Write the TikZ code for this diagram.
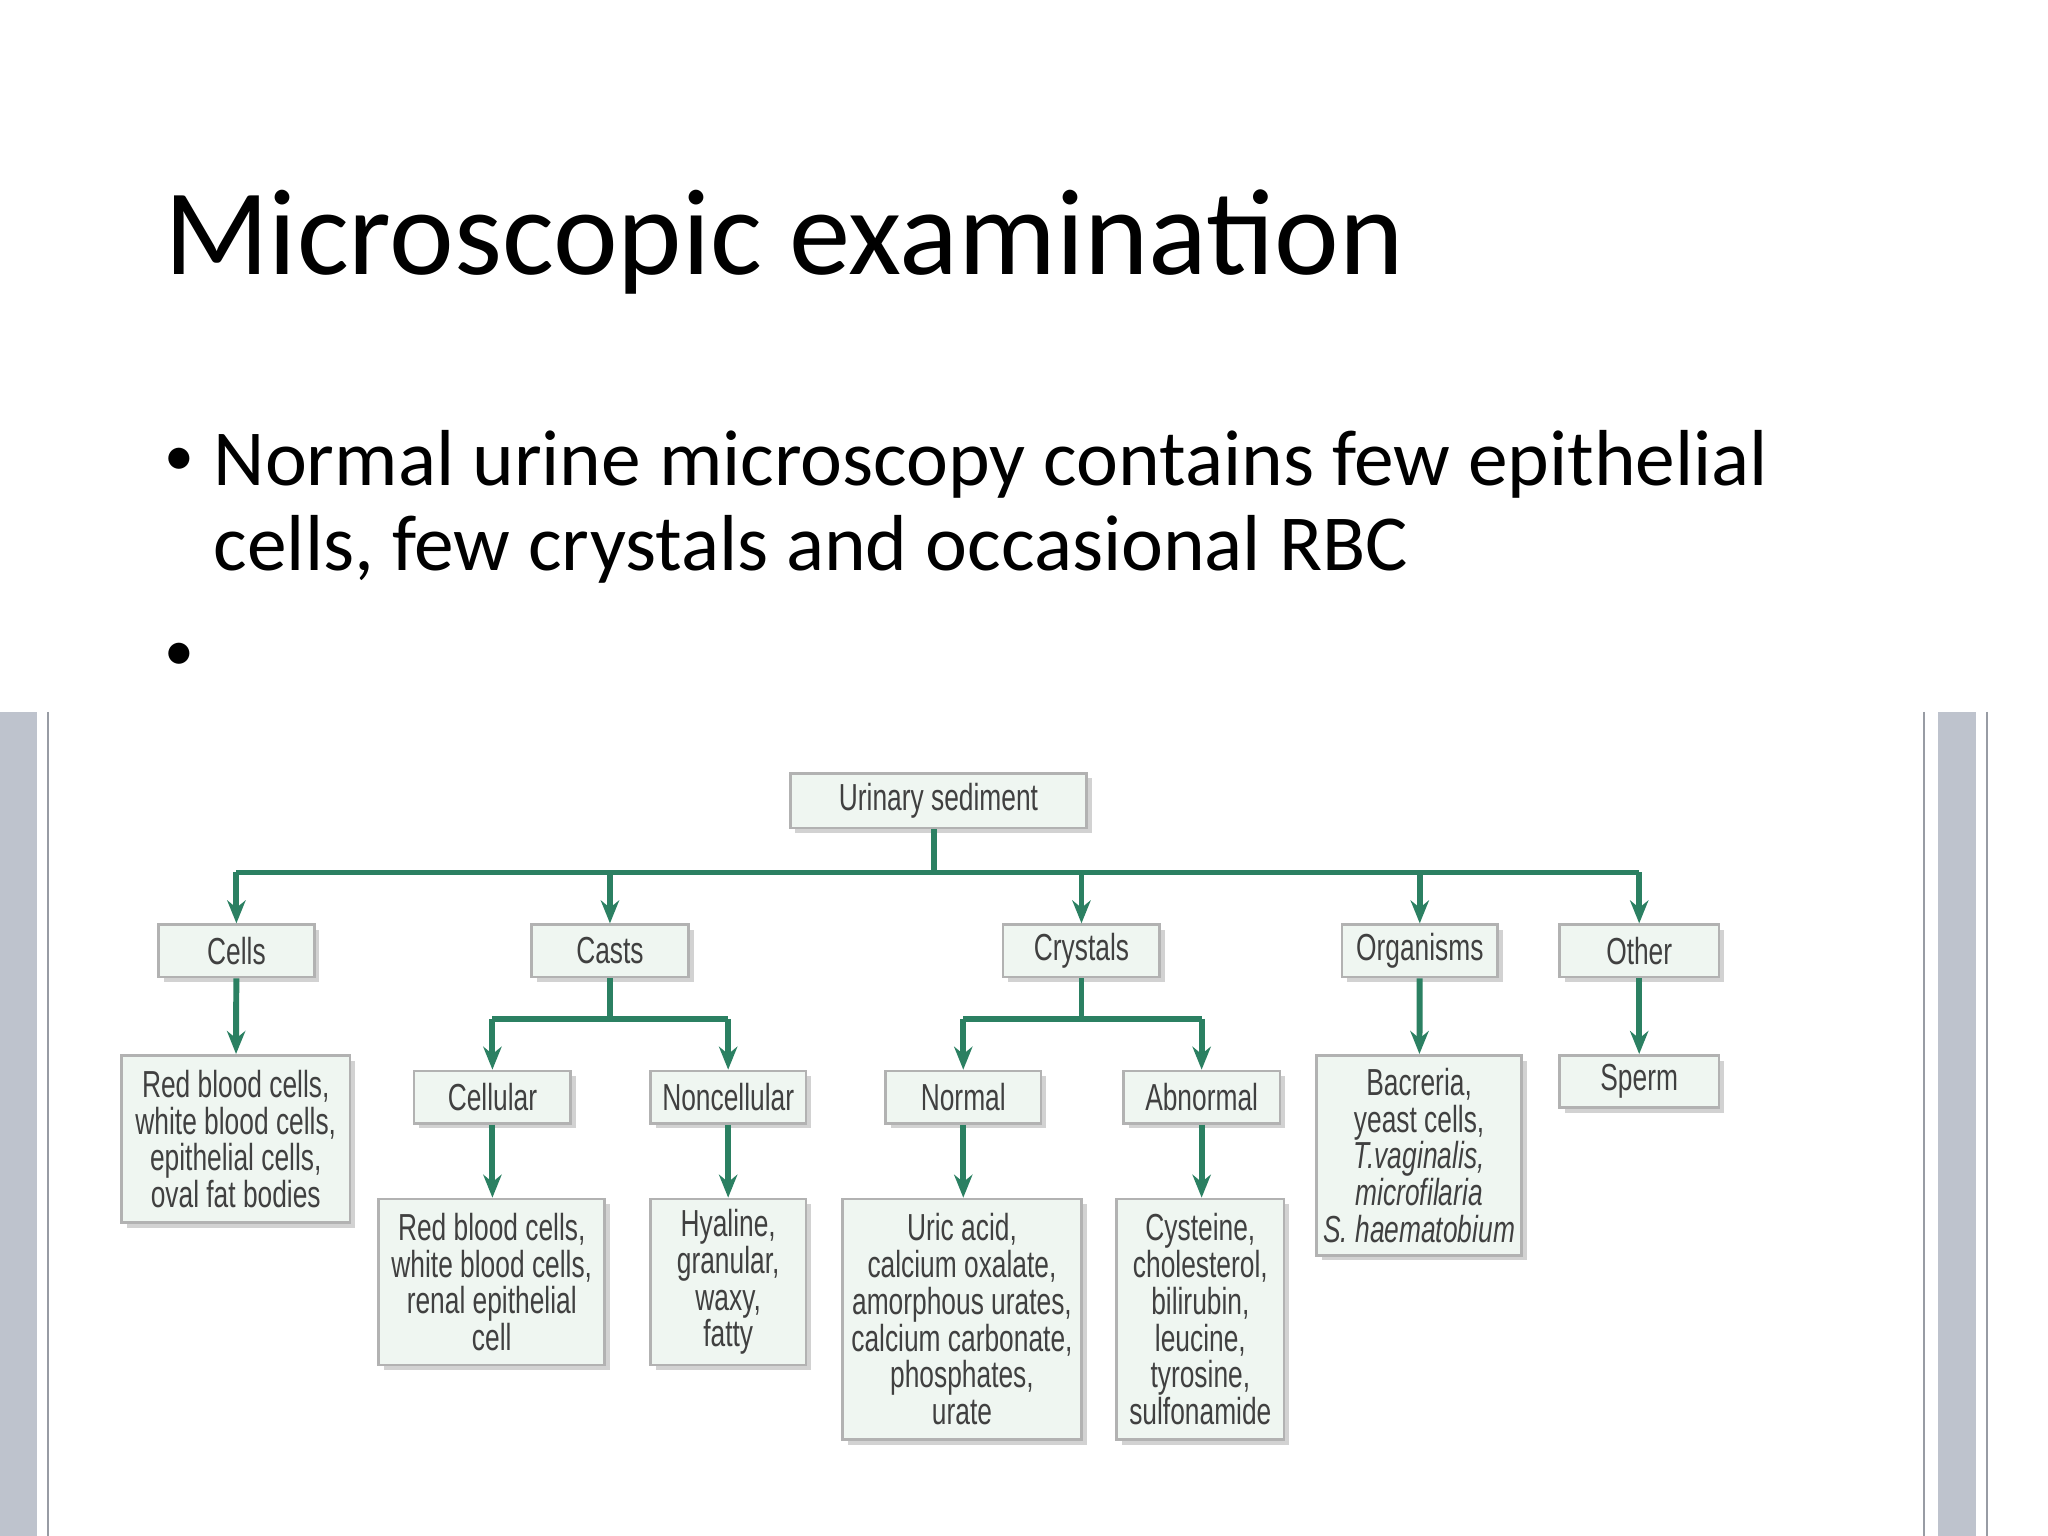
\documentclass[tikz,border=0pt]{standalone}
\usepackage{fontspec}
\setmainfont{Carlito}
\newfontfamily\dg[FakeStretch=0.70]{Liberation Sans}
\usetikzlibrary{shadows,arrows.meta}
\definecolor{gr}{HTML}{2B8062}
\definecolor{bar}{HTML}{BEC3CD}
\definecolor{bfill}{HTML}{EFF6F1}
\tikzset{
 bx/.style={draw=gray!60,line width=0.6pt,fill=bfill,drop shadow={shadow xshift=0.04,shadow yshift=-0.04,opacity=0.35},
   font=\dg\fontsize{8.2}{8}\selectfont\color{black!75},align=center,inner sep=0pt},
 ln/.style={draw=gr,line width=1.3pt},
 ar/.style={ln,-{Stealth[length=5pt,width=4pt]}},
 bt/.style={anchor=base west,inner sep=0,font=\fontsize{17.3}{19}\selectfont}
}
\newcommand{\bxat}[6]{\node[bx,minimum width=#3cm,minimum height=#4cm] (#1) at (#2) {#5};}
\begin{document}
\begin{tikzpicture}[x=1cm,y=1cm]
\useasboundingbox (0,0) rectangle (15.68,-11.76);
\fill[white] (0,0) rectangle (15.68,-11.76);
% side bars
\fill[bar] (0,-5.45) rectangle (0.28,-11.76);
\draw[bar!80!black,line width=0.5pt] (0.37,-5.45) -- (0.37,-11.76);
\draw[bar!80!black,line width=0.5pt] (14.73,-5.45) -- (14.73,-11.76);
\fill[bar] (14.84,-5.45) rectangle (15.13,-11.76);
\draw[bar!80!black,line width=0.5pt] (15.21,-5.45) -- (15.21,-11.76);
% title and bullets
\node[anchor=base west,inner sep=0,font=\fontsize{26.7}{30}\selectfont] (title) at (1.25,-2.10) {Microscopic examination};
\node[bt] (b1) at (1.63,-3.72) {Normal urine microscopy contains few epithelial};
\node[bt] (b2) at (1.63,-4.37) {cells, few crystals and occasional RBC};
\node[bt,font=\fontsize{13}{15}\selectfont] (d1) at (1.25,-3.64) {\textbullet};
\node[bt,font=\fontsize{13}{15}\selectfont] (d2) at (1.25,-5.13) {\textbullet};
% boxes
\bxat{us}{7.185,-6.13}{2.27}{0.42}{Urinary sediment}{}
\bxat{cells}{1.81,-7.28}{1.19}{0.40}{Cells}{}
\bxat{casts}{4.67,-7.28}{1.20}{0.40}{Casts}{}
\bxat{crys}{8.28,-7.28}{1.20}{0.40}{Crystals}{}
\bxat{org}{10.87,-7.28}{1.19}{0.40}{Organisms}{}
\bxat{oth}{12.55,-7.28}{1.22}{0.40}{Other}{}
\bxat{cl}{1.805,-8.72}{1.75}{1.28}{Red blood cells,\\white blood cells,\\epithelial cells,\\oval fat bodies}{}
\bxat{cel}{3.77,-8.40}{1.20}{0.40}{Cellular}{}
\bxat{nonc}{5.575,-8.40}{1.19}{0.40}{Noncellular}{}
\bxat{nor}{7.375,-8.40}{1.19}{0.40}{Normal}{}
\bxat{abn}{9.20,-8.40}{1.20}{0.40}{Abnormal}{}
\bxat{celL}{3.765,-9.815}{1.73}{1.27}{Red blood cells,\\white blood cells,\\renal epithelial\\cell}{}
\bxat{noncL}{5.575,-9.815}{1.19}{1.27}{Hyaline,\\granular,\\waxy,\\fatty}{}
\bxat{norL}{7.365,-10.10}{1.83}{1.84}{Uric acid,\\calcium oxalate,\\amorphous urates,\\calcium carbonate,\\phosphates,\\urate}{}
\bxat{abnL}{9.19,-10.10}{1.28}{1.84}{Cysteine,\\cholesterol,\\bilirubin,\\leucine,\\tyrosine,\\sulfonamide}{}
\bxat{orgL}{10.865,-8.845}{1.57}{1.53}{Bacreria,\\yeast cells,\\\textit{T.vaginalis,}\\\textit{microfilaria}\\\textit{S. haematobium}}{}
\bxat{othL}{12.55,-8.28}{1.22}{0.40}{Sperm}{}
% connectors
\coordinate (h1) at (7.15,-6.68);
\draw[ln] (us.south -| h1) -- (h1);
\draw[ln] (1.81,-6.68) -- (12.55,-6.68);
\foreach \n in {cells,casts,crys,org,oth} \draw[ar] (\n.north |- h1) -- (\n.north);
\draw[ar] (cells) -- (cl);
\draw[ar] (org) -- (orgL);
\draw[ar] (oth) -- (othL);
\draw[ln] (casts.south) -- (4.67,-7.80);
\draw[ln] (3.77,-7.80) -- (5.575,-7.80);
\draw[ar] (cel.north |- 0,-7.80) -- (cel.north);
\draw[ar] (nonc.north |- 0,-7.80) -- (nonc.north);
\draw[ln] (crys.south) -- (8.28,-7.80);
\draw[ln] (7.375,-7.80) -- (9.20,-7.80);
\draw[ar] (nor.north |- 0,-7.80) -- (nor.north);
\draw[ar] (abn.north |- 0,-7.80) -- (abn.north);
\draw[ar] (cel) -- (cel.south |- celL.north);
\draw[ar] (nonc) -- (noncL);
\draw[ar] (nor) -- (nor.south |- norL.north);
\draw[ar] (abn) -- (abn.south |- abnL.north);
\end{tikzpicture}
\end{document}
